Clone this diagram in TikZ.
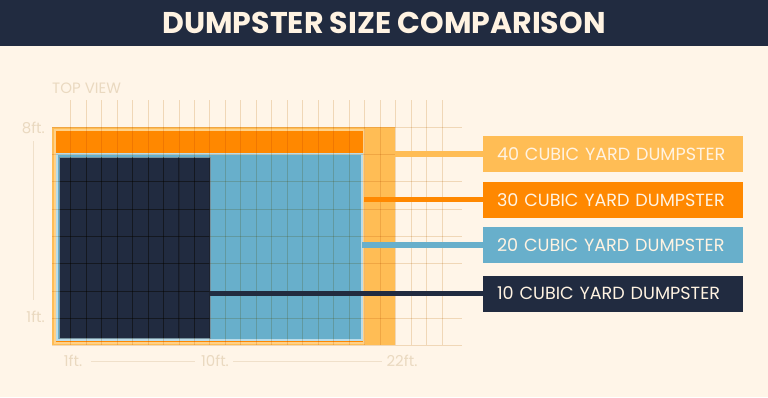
\documentclass[tikz,border=0pt]{standalone}
\usepackage{fontspec}
\setmainfont{Poppins}
\definecolor{navy}{HTML}{212B40}
\definecolor{cream}{HTML}{FFF5E8}
\definecolor{paper}{HTML}{FFF3E2}
\definecolor{yd40}{HTML}{FFBD55}
\definecolor{yd30}{HTML}{FF8800}
\definecolor{yd20}{HTML}{68AFCB}
\definecolor{yd10}{HTML}{212B40}
\definecolor{tan}{HTML}{EAD9C0}
\definecolor{gridtan}{HTML}{F0E0CA}
\begin{document}
\begin{tikzpicture}[x=1pt,y=-1pt]
        \tikzstyle{box}=[rectangle,inner sep=0pt,outer sep=0pt]
        \tikzstyle{tag}=[rectangle,inner sep=0pt,inner xsep=14pt,outer sep=0pt,minimum height=36pt,text width=232pt,align=left,text=paper,font=\fontsize{17.6}{20}\selectfont]
        \tikzstyle{axis}=[inner sep=0pt,text=tan,font=\fontsize{15}{18}\selectfont]
        \tikzstyle{lead}=[line width=5.5pt]
        \tikzstyle{gridline}=[draw=gridtan,line width=0.9pt]

        \useasboundingbox (0,0) rectangle (768,397);
        \fill[cream] (0,0) rectangle (768,397);
        \fill[navy] (0,0) rectangle (768,46);
        \node[text=paper,font=\fontsize{30}{33}\selectfont\bfseries] (title) at (384,23) {DUMPSTER SIZE COMPARISON};

        % scale marks
        \node[axis,anchor=west] (top) at (52,88) {TOP VIEW};
        \node[axis,anchor=east] (h8) at (45,128) {8ft.};
        \node[axis,anchor=east] (h1) at (45,317) {1ft.};
        \node[axis] (w1) at (73,361) {1ft.};
        \node[axis] (w10) at (215,361) {10ft.};
        \node[axis] (w22) at (402,361) {22ft.};
        \path[draw=gridtan,line width=1pt] (33,141) edge (33,300);
        \path[draw=gridtan,line width=1pt,shorten <=9pt,shorten >=6pt] (w1.east) edge (w10.west);
        \path[draw=gridtan,line width=1pt,shorten <=4pt,shorten >=4pt] (w10.east) edge (w22.west);

        \begin{scope}
         \node[box,fill=yd40,minimum width=343pt,minimum height=218pt] (d40) at (223.5,236) {};
         \node[box,fill=yd30,draw=yd40!70!white,line width=1.5pt,minimum width=309pt,minimum height=213pt] (d30) at (209.5,236.25) {};
         \node[box,fill=yd20,draw=yd20!45!white,line width=1.2pt,minimum width=305pt,minimum height=186pt] (d20) at (209.5,247) {};
         \node[box,fill=yd10,draw=gray!60!yd20,line width=1pt,minimum width=151pt,minimum height=181pt] (d10) at (134.5,247.5) {};
        \end{scope}

        \begin{scope}[blend mode=multiply]
         \foreach \k in {0,...,24}
           \draw[gridline] ({70.7+15.47*\k},100) -- ({70.7+15.47*\k},345);
         \foreach \j in {0,...,8}
           \draw[gridline] (52,{127.3+27.3*\j}) -- (462,{127.3+27.3*\j});
        \end{scope}

        % darker cells on the 10 yard box
        \begin{scope}
         \clip ([shift={(0.8,-0.8)}]d10.south west) rectangle ([shift={(-0.8,0.8)}]d10.north east);
         \foreach \k in {0,...,9}
           \draw[black,opacity=0.35,line width=1pt] ({70.7+15.47*\k},150) -- ({70.7+15.47*\k},345);
         \foreach \j in {0,...,8}
           \draw[black,opacity=0.35,line width=1pt] (52,{127.3+27.3*\j}) -- (220,{127.3+27.3*\j});
        \end{scope}

        \node[tag,fill=yd40] (lab40) at (613,154) {40 CUBIC YARD DUMPSTER};
        \node[tag,fill=yd30] (lab30) at (613,199.7) {30 CUBIC YARD DUMPSTER};
        \node[tag,fill=yd20] (lab20) at (613,245) {20 CUBIC YARD DUMPSTER};
        \node[tag,fill=yd10] (lab10) at (613,293.5) {10 CUBIC YARD DUMPSTER};

        \path[lead,draw=yd40] (d40.east |- lab40.west) edge (lab40.west);
        \path[lead,draw=yd30] (d30.east |- lab30.west) edge (lab30.west);
        \path[lead,draw=yd20] (d20.east |- lab20.west) edge (lab20.west);
        \path[lead,draw=yd10] (d10.east |- lab10.west) edge (lab10.west);
\end{tikzpicture}
\end{document}
